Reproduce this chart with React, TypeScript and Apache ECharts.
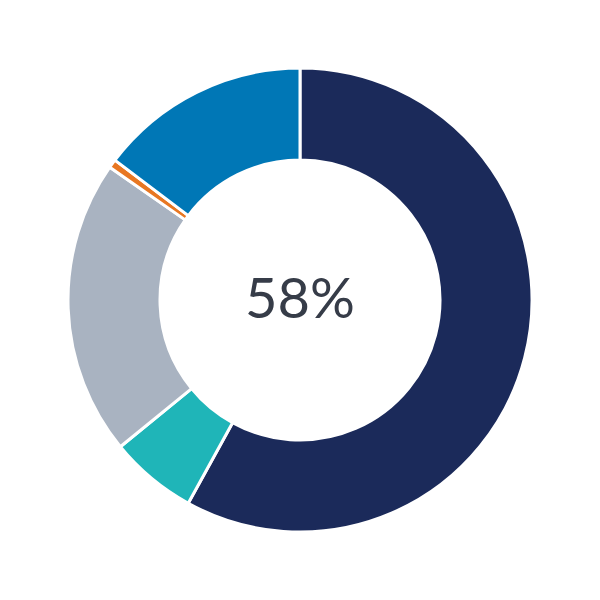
import React, { useEffect, useRef } from "react";
import * as echarts from "echarts";

const categories = ["Navy", "Teal", "Gray", "Orange", "Blue"];
const values = [58, 6.1, 20.6, 0.6, 14.7];
const colors = ["#1b2a5a", "#1fb5b8", "#a9b3c1", "#e87722", "#0077b6"];
const centerLabel = "58%";

export default function App() {
  const ref = useRef<HTMLDivElement>(null);
  useEffect(() => {
    const chart = echarts.init(ref.current!, null, { renderer: "svg" });
    chart.setOption({
      animation: false,
      graphic: [
        {
          type: "text",
          x: 300,
          y: 296,
          style: {
            text: centerLabel,
            fontFamily: "Lato",
            fontSize: 56,
            fill: "#363c48",
            align: "center",
            verticalAlign: "middle",
          },
        },
      ],
      series: [
        {
          type: "pie",
          center: [300, 300],
          radius: [140, 232],
          startAngle: 90,
          clockwise: true,
          label: { show: false },
          labelLine: { show: false },
          itemStyle: { borderColor: "#ffffff", borderWidth: 3 },
          emphasis: { disabled: true },
          data: categories.map((name, i) => ({
            name,
            value: values[i],
            itemStyle: { color: colors[i] },
          })),
        },
      ],
    });
    return () => chart.dispose();
  }, []);
  return (
    <div
      ref={ref}
      style={{ position: "fixed", left: 0, top: 0, width: 600, height: 600, background: "#fff" }}
    />
  );
}
